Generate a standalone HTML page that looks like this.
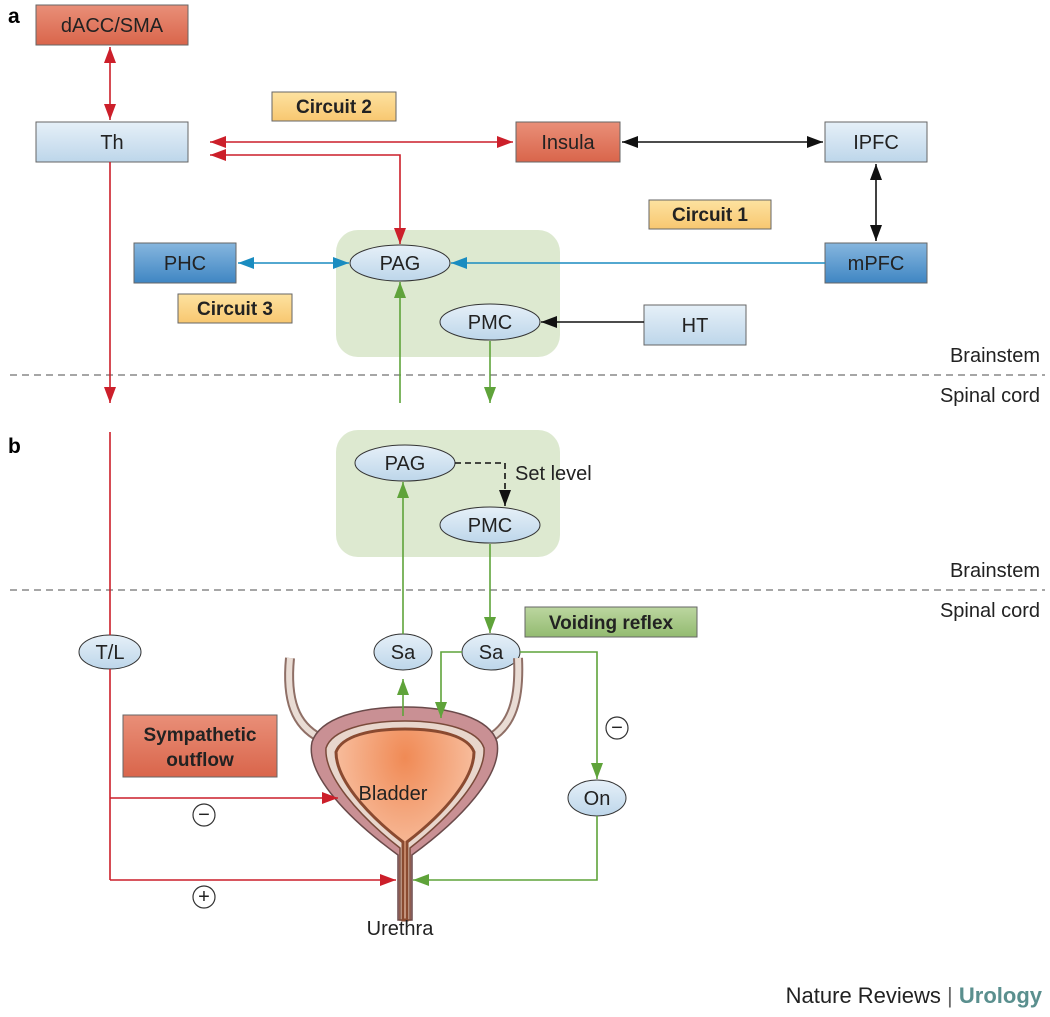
<!DOCTYPE html>
<html><head><meta charset="utf-8"><style>
html,body{margin:0;padding:0;background:#fff}
svg{display:block}
text{font-family:"Liberation Sans",sans-serif}
</style></head><body>
<svg width="1050" height="1017" viewBox="0 0 1050 1017" xmlns="http://www.w3.org/2000/svg">
<defs>
<linearGradient id="sal" x1="0" y1="0" x2="0" y2="1"><stop offset="0" stop-color="#e98f78"/><stop offset="1" stop-color="#d9654b"/></linearGradient>
<linearGradient id="lb" x1="0" y1="0" x2="0" y2="1"><stop offset="0" stop-color="#e6f0f8"/><stop offset="1" stop-color="#bdd6ea"/></linearGradient>
<linearGradient id="db" x1="0" y1="0" x2="0" y2="1"><stop offset="0" stop-color="#86b6de"/><stop offset="1" stop-color="#3f86c3"/></linearGradient>
<linearGradient id="yl" x1="0" y1="0" x2="0" y2="1"><stop offset="0" stop-color="#fde2a0"/><stop offset="1" stop-color="#f8c770"/></linearGradient>
<linearGradient id="gr" x1="0" y1="0" x2="0" y2="1"><stop offset="0" stop-color="#bcd6a0"/><stop offset="1" stop-color="#93bb70"/></linearGradient>
<radialGradient id="bl" cx="0.5" cy="0.15" r="0.9"><stop offset="0" stop-color="#f08a55"/><stop offset="1" stop-color="#fde4d4"/></radialGradient>
<marker id="ar" viewBox="0 0 16 12" refX="16" refY="6" markerWidth="16" markerHeight="12" markerUnits="userSpaceOnUse" orient="auto-start-reverse"><path d="M0,0 L16,6 L0,12z" fill="#cc1f2a"/></marker>
<marker id="ab" viewBox="0 0 16 12" refX="16" refY="6" markerWidth="16" markerHeight="12" markerUnits="userSpaceOnUse" orient="auto-start-reverse"><path d="M0,0 L16,6 L0,12z" fill="#111"/></marker>
<marker id="au" viewBox="0 0 16 12" refX="16" refY="6" markerWidth="16" markerHeight="12" markerUnits="userSpaceOnUse" orient="auto-start-reverse"><path d="M0,0 L16,6 L0,12z" fill="#1a8cc0"/></marker>
<marker id="ag" viewBox="0 0 16 12" refX="16" refY="6" markerWidth="16" markerHeight="12" markerUnits="userSpaceOnUse" orient="auto-start-reverse"><path d="M0,0 L16,6 L0,12z" fill="#5fa33a"/></marker>
</defs>

<rect x="336" y="230" width="224" height="127" rx="22" fill="#dde9d0"/>
<rect x="336" y="430" width="224" height="127" rx="22" fill="#dde9d0"/>

<line x1="10" y1="375" x2="1045" y2="375" stroke="#888" stroke-width="1.5" stroke-dasharray="7,5"/>
<line x1="10" y1="590" x2="1045" y2="590" stroke="#888" stroke-width="1.5" stroke-dasharray="7,5"/>

<text x="8" y="23" font-size="21" font-weight="bold">a</text>
<text x="8" y="453" font-size="21" font-weight="bold">b</text>

<g stroke="#666" stroke-width="1">
<rect x="36" y="5" width="152" height="40" fill="url(#sal)"/>
<rect x="36" y="122" width="152" height="40" fill="url(#lb)"/>
<rect x="272" y="92" width="124" height="29" fill="url(#yl)"/>
<rect x="516" y="122" width="104" height="40" fill="url(#sal)"/>
<rect x="825" y="122" width="102" height="40" fill="url(#lb)"/>
<rect x="649" y="200" width="122" height="29" fill="url(#yl)"/>
<rect x="134" y="243" width="102" height="40" fill="url(#db)"/>
<rect x="825" y="243" width="102" height="40" fill="url(#db)"/>
<rect x="178" y="294" width="114" height="29" fill="url(#yl)"/>
<rect x="644" y="305" width="102" height="40" fill="url(#lb)"/>
<rect x="525" y="607" width="172" height="30" fill="url(#gr)"/>
<rect x="123" y="715" width="154" height="62" fill="url(#sal)"/>
</g>
<g font-size="20" text-anchor="middle" fill="#222">
<text x="112" y="32">dACC/SMA</text>
<text x="112" y="149">Th</text>
<text x="568" y="149">Insula</text>
<text x="876" y="149">IPFC</text>
<text x="185" y="270">PHC</text>
<text x="876" y="270">mPFC</text>
<text x="695" y="332">HT</text>
</g>
<g font-size="19" font-weight="bold" text-anchor="middle" fill="#222">
<text x="334" y="113">Circuit 2</text>
<text x="710" y="221">Circuit 1</text>
<text x="235" y="315">Circuit 3</text>
<text x="611" y="629">Voiding reflex</text>
<text x="200" y="741">Sympathetic</text>
<text x="200" y="766">outflow</text>
</g>

<g stroke="#333" stroke-width="1" fill="url(#lb)">
<ellipse cx="400" cy="263" rx="50" ry="18"/>
<ellipse cx="490" cy="322" rx="50" ry="18"/>
<ellipse cx="405" cy="463" rx="50" ry="18"/>
<ellipse cx="490" cy="525" rx="50" ry="18"/>
<ellipse cx="110" cy="652" rx="31" ry="17"/>
<ellipse cx="403" cy="652" rx="29" ry="18"/>
<ellipse cx="491" cy="652" rx="29" ry="18"/>
<ellipse cx="597" cy="798" rx="29" ry="18"/>
</g>
<g font-size="20" text-anchor="middle" fill="#222">
<text x="400" y="270">PAG</text>
<text x="490" y="329">PMC</text>
<text x="405" y="470">PAG</text>
<text x="490" y="532">PMC</text>
<text x="110" y="659">T/L</text>
<text x="403" y="659">Sa</text>
<text x="491" y="659">Sa</text>
<text x="597" y="805">On</text>
</g>

<g fill="none" stroke-width="1.6">
<line x1="110" y1="47" x2="110" y2="120" stroke="#cc1f2a" marker-start="url(#ar)" marker-end="url(#ar)"/>
<line x1="110" y1="162" x2="110" y2="403" stroke="#cc1f2a" marker-end="url(#ar)"/>
<line x1="210" y1="142" x2="513" y2="142" stroke="#cc1f2a" marker-start="url(#ar)" marker-end="url(#ar)"/>
<polyline points="210,155 400,155 400,244" stroke="#cc1f2a" marker-start="url(#ar)" marker-end="url(#ar)"/>
<line x1="622" y1="142" x2="823" y2="142" stroke="#111" marker-start="url(#ab)" marker-end="url(#ab)"/>
<line x1="876" y1="164" x2="876" y2="241" stroke="#111" marker-start="url(#ab)" marker-end="url(#ab)"/>
<line x1="238" y1="263" x2="349" y2="263" stroke="#1a8cc0" marker-start="url(#au)" marker-end="url(#au)"/>
<line x1="825" y1="263" x2="451" y2="263" stroke="#1a8cc0" marker-end="url(#au)"/>
<line x1="644" y1="322" x2="541" y2="322" stroke="#111" marker-end="url(#ab)"/>
<line x1="400" y1="403" x2="400" y2="282" stroke="#5fa33a" marker-end="url(#ag)"/>
<line x1="490" y1="341" x2="490" y2="403" stroke="#5fa33a" marker-end="url(#ag)"/>
</g>
<g font-size="20" fill="#222">
<text x="1040" y="362" text-anchor="end">Brainstem</text>
<text x="1040" y="402" text-anchor="end">Spinal cord</text>
<text x="1040" y="577" text-anchor="end">Brainstem</text>
<text x="1040" y="617" text-anchor="end">Spinal cord</text>
<text x="515" y="480">Set level</text>
</g>

<!-- ureters -->
<path d="M290,658 C286,700 295,725 320,738" fill="none" stroke="#8f6f66" stroke-width="10"/>
<path d="M290,658 C286,700 295,725 320,738" fill="none" stroke="#e9dcd4" stroke-width="6"/>
<path d="M518,658 C520,700 512,725 490,738" fill="none" stroke="#8f6f66" stroke-width="10"/>
<path d="M518,658 C520,700 512,725 490,738" fill="none" stroke="#e9dcd4" stroke-width="6"/>
<!-- bladder -->
<path d="M405,707 C450,707 490,718 497,742 C503,775 460,820 412,855 L412,920 L398,920 L398,855 C350,820 305,775 312,742 C320,718 360,707 405,707Z" fill="#c99094" stroke="#6a4a4a" stroke-width="1.5"/>
<path d="M405,721 C445,721 478,730 484,748 C486,776 452,815 410,848 L410,920 L400,920 L400,848 C358,815 324,776 326,748 C332,730 365,721 405,721Z" fill="#e8d6cc" stroke="#7a4a3a" stroke-width="1.5"/>
<path d="M405,729 C440,729 468,736 474,752 C474,778 446,812 407,842 L407,920 L403,920 L403,842 C364,812 336,778 336,752 C342,736 370,729 405,729Z" fill="url(#bl)" stroke="#8a4a30" stroke-width="3"/>
<text x="393" y="800" font-size="20" text-anchor="middle" fill="#222">Bladder</text>
<text x="400" y="935" font-size="20" text-anchor="middle" fill="#222">Urethra</text>

<g fill="none" stroke-width="1.6">
<polyline points="455,463 505,463 505,506" stroke="#111" stroke-dasharray="6,4" marker-end="url(#ab)"/>
<line x1="403" y1="634" x2="403" y2="482" stroke="#5fa33a" marker-end="url(#ag)"/>
<line x1="490" y1="544" x2="490" y2="633" stroke="#5fa33a" marker-end="url(#ag)"/>
<line x1="110" y1="432" x2="110" y2="635" stroke="#cc1f2a"/>
<line x1="110" y1="669" x2="110" y2="880" stroke="#cc1f2a"/>
<line x1="110" y1="798" x2="338" y2="798" stroke="#cc1f2a" marker-end="url(#ar)"/>
<line x1="110" y1="880" x2="396" y2="880" stroke="#cc1f2a" marker-end="url(#ar)"/>
<polyline points="520,652 597,652 597,779" stroke="#5fa33a" marker-end="url(#ag)"/>
<polyline points="462,652 441,652 441,718" stroke="#5fa33a" marker-end="url(#ag)"/>
<line x1="403" y1="716" x2="403" y2="679" stroke="#5fa33a" marker-end="url(#ag)"/>
<polyline points="597,816 597,880 413,880" stroke="#5fa33a" marker-end="url(#ag)"/>
</g>
<g fill="#fff" stroke="#333" stroke-width="1.2">
<circle cx="617" cy="728" r="11"/>
<circle cx="204" cy="815" r="11"/>
<circle cx="204" cy="897" r="11"/>
</g>
<g font-size="20" text-anchor="middle" fill="#222">
<text x="617" y="734">−</text>
<text x="204" y="821">−</text>
<text x="204" y="903">+</text>
</g>

<text x="1042" y="1003" font-size="22" text-anchor="end"><tspan fill="#222">Nature Reviews</tspan><tspan fill="#666"> | </tspan><tspan fill="#5a8f8e" font-weight="bold">Urology</tspan></text>
</svg>
</body></html>
